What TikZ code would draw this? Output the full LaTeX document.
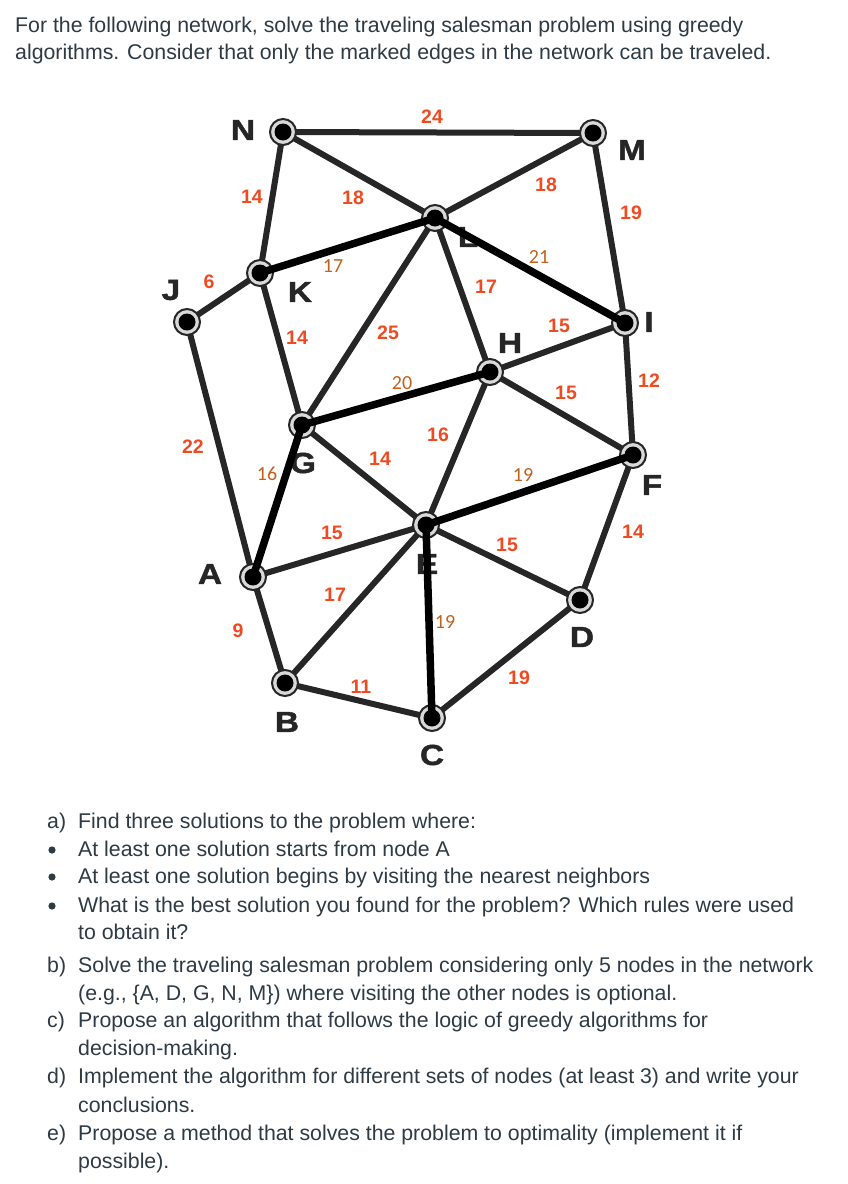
\documentclass[tikz,border=0pt]{standalone}
\usepackage{fontspec}
\setmainfont{Liberation Sans}
\newfontfamily\calib{Carlito}
\newfontfamily\heavy[FakeBold=1.5,FakeStretch=1.15]{Liberation Sans}
\usetikzlibrary{backgrounds}
\definecolor{txt}{HTML}{2E3A44}
\definecolor{wred}{HTML}{EE4B22}
\definecolor{wbrown}{HTML}{C4601E}
\definecolor{egray}{HTML}{262626}
\definecolor{ring}{HTML}{D9D9D9}
\tikzset{
  vtx/.style={circle, minimum size=26pt, inner sep=0pt, fill=ring, draw=egray, line width=2pt,
    path picture={\fill[black] (path picture bounding box.center) circle (8.5pt);}},
  gedge/.style={draw=egray, line width=6pt},
  bedge/.style={draw=black, line width=7.5pt},
  wlab/.style={text=wred, font=\fontsize{19.5}{19.5}\selectfont\bfseries, inner sep=0pt},
  blab/.style={text=wbrown, font=\fontsize{20}{20}\selectfont\calib, inner sep=0pt},
  nlab/.style={text=black!85, font=\fontsize{29}{29}\selectfont\heavy\bfseries, inner sep=0pt},
  para/.style={text=txt, font=\fontsize{21.3}{28}\selectfont, anchor=base west, inner sep=0pt},
  bul/.style={circle, fill=txt, minimum size=7.2pt, inner sep=0pt}
}
\begin{document}
\begin{tikzpicture}[x=1pt,y=-1pt]
\useasboundingbox (0,0) rectangle (848,1184);
% text
\node[para] (t1) at (15,32) {For the following network, solve the traveling salesman problem using greedy};
\node[para] (t2) at (15,59) {algorithms. Consider that only the marked edges in the network can be traveled.};
% vertices
\node[vtx] (N) at (283,132) {};
\node[vtx] (M) at (593,133) {};
\node[vtx] (L) at (435,218) {};
\node[vtx] (K) at (260,273) {};
\node[vtx] (J) at (187,322) {};
\node[vtx] (I) at (625,323) {};
\node[vtx] (H) at (490,372) {};
\node[vtx] (G) at (302,425) {};
\node[vtx] (F) at (633,455) {};
\node[vtx] (E) at (426,525) {};
\node[vtx] (A) at (253,577) {};
\node[vtx] (D) at (580,600) {};
\node[vtx] (B) at (285,683) {};
\node[vtx] (C) at (432,718) {};
% gray edges
\begin{scope}[on background layer]
\fill[white] (0,0) rectangle (848,1184);
\draw[gedge] (N.center) -- (M.center);
\draw[gedge] (N.center) -- (K.center);
\draw[gedge] (N.center) -- (L.center);
\draw[gedge] (L.center) -- (M.center);
\draw[gedge] (M.center) -- (I.center);
\draw[gedge] (J.center) -- (K.center);
\draw[gedge] (K.center) -- (G.center);
\draw[gedge] (L.center) -- (G.center);
\draw[gedge] (L.center) -- (H.center);
\draw[gedge] (H.center) -- (I.center);
\draw[gedge] (I.center) -- (F.center);
\draw[gedge] (H.center) -- (F.center);
\draw[gedge] (H.center) -- (E.center);
\draw[gedge] (G.center) -- (E.center);
\draw[gedge] (J.center) -- (A.center);
\draw[gedge] (A.center) -- (E.center);
\draw[gedge] (E.center) -- (D.center);
\draw[gedge] (F.center) -- (D.center);
\draw[gedge] (A.center) -- (B.center);
\draw[gedge] (B.center) -- (E.center);
\draw[gedge] (B.center) -- (C.center);
\draw[gedge] (C.center) -- (D.center);
\end{scope}
% node letters
\node[nlab] (lN) at (243,130) {N};
\node[nlab] (lM) at (632,150) {M};
\node[nlab] (lL) at (468,237) {L};
\node[nlab] (lK) at (300,292) {K};
\node[nlab] (lJ) at (171,290) {J};
\node[nlab] (lI) at (649,322) {I};
\node[nlab] (lH) at (510,343) {H};
\node[nlab] (lF) at (652,485) {F};
\node[nlab] (lE) at (427,564) {E};
\node[nlab] (lG) at (303,463) {G};
\node[nlab] (lA) at (210,574) {A};
\node[nlab] (lB) at (287,722) {B};
\node[nlab] (lC) at (432,755) {C};
\node[nlab] (lD) at (582,637) {D};
% black (marked) edges
\draw[bedge] (K.center) -- (L.center);
\draw[bedge] (L.center) -- (I.center);
\draw[bedge] (G.center) -- (H.center);
\draw[bedge] (A.center) -- (G.center);
\draw[bedge] (E.center) -- (F.center);
\draw[bedge] (E.center) -- (C.center);
% weights
\node[wlab] (w1) at (432,117) {24};
\node[wlab] (w2) at (252,197) {14};
\node[wlab] (w3) at (353,198) {18};
\node[wlab] (w4) at (546,185) {18};
\node[wlab] (w5) at (631,213) {19};
\node[blab] (w6) at (333,266) {17};
\node[blab] (w7) at (539,257) {21};
\node[wlab] (w8) at (209,282) {6};
\node[wlab] (w9) at (486,287) {17};
\node[wlab] (w10) at (297,338) {14};
\node[wlab] (w11) at (388,333) {25};
\node[wlab] (w12) at (559,326) {15};
\node[blab] (w13) at (402,383) {20};
\node[wlab] (w14) at (438,435) {16};
\node[wlab] (w15) at (566,393) {15};
\node[wlab] (w16) at (649,381) {12};
\node[wlab] (w17) at (193,447) {22};
\node[blab] (w18) at (267,474) {16};
\node[wlab] (w19) at (380,459) {14};
\node[blab] (w20) at (523,475) {19};
\node[wlab] (w21) at (633,532) {14};
\node[wlab] (w22) at (332,533) {15};
\node[wlab] (w23) at (507,545) {15};
\node[wlab] (w24) at (335,595) {17};
\node[blab] (w25) at (445,622) {19};
\node[wlab] (w26) at (238,631) {9};
\node[wlab] (w27) at (361,687) {11};
\node[wlab] (w28) at (519,678) {19};
% questions
\node[para] (qa) at (47,828) {a)};
\node[para] (qa1) at (78,828) {Find three solutions to the problem where:};
\node[bul] (b1) at (52,850) {};
\node[para] (qa2) at (78,856) {At least one solution starts from node A};
\node[bul] (b2) at (52,877) {};
\node[para] (qa3) at (78,883) {At least one solution begins by visiting the nearest neighbors};
\node[bul] (b3) at (52,906) {};
\node[para] (qa4) at (78,912) {What is the best solution you found for the problem? Which rules were used};
\node[para] (qa5) at (78,939) {to obtain it?};
\node[para] (qb) at (47,972) {b)};
\node[para] (qb1) at (78,972) {Solve the traveling salesman problem considering only 5 nodes in the network};
\node[para] (qb2) at (78,1000) {(e.g., \{A, D, G, N, M\}) where visiting the other nodes is optional.};
\node[para] (qc) at (47,1027) {c)};
\node[para] (qc1) at (78,1027) {Propose an algorithm that follows the logic of greedy algorithms for};
\node[para] (qc2) at (78,1055) {decision-making.};
\node[para] (qd) at (47,1083) {d)};
\node[para] (qd1) at (78,1083) {Implement the algorithm for different sets of nodes (at least 3) and write your};
\node[para] (qd2) at (78,1112) {conclusions.};
\node[para] (qe) at (47,1140) {e)};
\node[para] (qe1) at (78,1140) {Propose a method that solves the problem to optimality (implement it if};
\node[para] (qe2) at (78,1168) {possible).};
\end{tikzpicture}
\end{document}
